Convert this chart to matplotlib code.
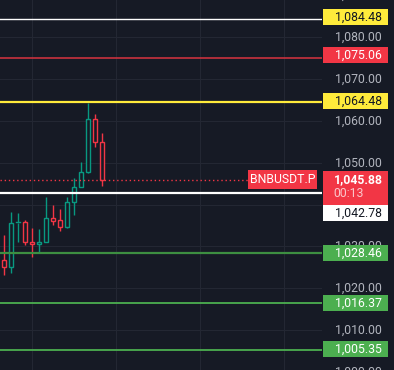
import matplotlib
matplotlib.use('Agg')
import matplotlib.pyplot as plt
import matplotlib.patches as mpatches
from matplotlib.transforms import blended_transform_factory

plt.rcParams['font.family'] = ['Roboto', 'DejaVu Sans']

# Candle data (15 bars)
opens = [1026.8, 1025.2, 1035.7, 1035.8, 1031.15, 1030.5, 1031.15, 1036.75,
         1036.3, 1034.6, 1040.6, 1044.15, 1047.9, 1060.4, 1054.9]
highs = [1032.8, 1038.2, 1037.9, 1036.3, 1034.5, 1034.2, 1041.9, 1039.9,
         1039.0, 1041.9, 1046.3, 1050.1, 1064.25, 1061.7, 1057.1]
lows = [1023.2, 1023.6, 1031.15, 1030.4, 1027.6, 1028.6, 1031.15, 1035.1,
        1033.8, 1034.35, 1037.5, 1044.15, 1047.5, 1053.7, 1044.55]
closes = [1025.2, 1035.55, 1035.9, 1031.15, 1030.5, 1031.15, 1036.75, 1036.2,
          1034.6, 1040.6, 1044.15, 1047.75, 1060.4, 1054.9, 1045.88]

# Horizontal levels
level_prices = [1084.48, 1075.06, 1064.48, 1042.78, 1028.46, 1016.37, 1005.35]
level_line_colors = ['#ffffff', '#c8323e', '#ffeb3b', '#ffffff', '#3d8f41', '#4caf50', '#4caf50']
level_line_widths = [1.0, 1.2, 1.6, 1.6, 1.6, 1.3, 1.3]
level_box_colors = ['#ffeb3b', '#f23645', '#ffeb3b', '#ffffff', '#4caf50', '#4caf50', '#4caf50']
level_text_colors = ['#131722', '#ffffff', '#131722', '#131722', '#ffffff', '#ffffff', '#ffffff']
# label centres (labels get nudged so they don't overlap)
level_box_centers = [1084.9, 1075.7, 1064.8, 1038.0, 1028.45, 1016.4, 1005.5]

tick_prices = [1000, 1010, 1020, 1030, 1040, 1050, 1060, 1070, 1080, 1090]

last_price = 1045.88
symbol = 'BNBUSDT.P'
countdown = '00:13'

BG = '#161a25'
GRID = '#232733'
UP = '#089981'
DOWN = '#f23645'
W, H = 394, 370
YLIM = (1000.45, 1088.97)

fig = plt.figure(figsize=(W / 100, H / 100), dpi=100, facecolor=BG)
ax = fig.add_axes([0, 0, 322 / W, 1])
ax.set_facecolor(BG)
ax.set_xlim(-0.614, 45.39)
ax.set_ylim(*YLIM)
for s in ax.spines.values():
    s.set_visible(False)
ax.set_xticks([])
ax.set_yticks([])

# grid
for p in range(1000, 1090, 10):
    ax.axhline(p, color=GRID, lw=0.8, zorder=0)
for xi in [4, 16, 28, 40]:
    ax.axvline(xi, color=GRID, lw=0.8, zorder=0)

# hollow candles
bw = 0.58
for i, (o, h, l, c) in enumerate(zip(opens, highs, lows, closes)):
    col = UP if c >= o else DOWN
    top, bot = max(o, c), min(o, c)
    ax.plot([i, i], [top, h], color=col, lw=1.0, zorder=3, solid_capstyle='butt')
    ax.plot([i, i], [l, bot], color=col, lw=1.0, zorder=3, solid_capstyle='butt')
    if top - bot < 0.4:
        ax.plot([i - bw / 2, i + bw / 2], [c, c], color=col, lw=1.0, zorder=3)
    else:
        ax.add_patch(mpatches.Rectangle((i - bw / 2, bot), bw, top - bot,
                                        facecolor=BG, edgecolor=col, lw=1.0, zorder=3))

# level lines
for p, c, lw in zip(level_prices, level_line_colors, level_line_widths):
    ax.axhline(p, color=c, lw=lw, zorder=4)

trans = blended_transform_factory(fig.transFigure, ax.transData)
px_h = (YLIM[1] - YLIM[0]) / H  # price units per pixel

# price scale tick labels
for p in tick_prices:
    ax.text(358 / W, p, f'{p:,.2f}', transform=trans, ha='center', va='center',
            fontsize=8.8, color='#b2b5be', clip_on=False, zorder=5)


def label_box(x0, x1, yc, hpx, fc, zorder=6):
    rect = mpatches.Rectangle((x0 / W, yc - hpx * px_h / 2), (x1 - x0) / W, hpx * px_h,
                              transform=trans, facecolor=fc, edgecolor='none',
                              clip_on=False, zorder=zorder)
    ax.add_artist(rect)


# level labels
for p, yc, fc, tc in zip(level_prices, level_box_centers, level_box_colors, level_text_colors):
    label_box(323, 388, yc, 16, fc)
    ax.text(358 / W, yc, f'{p:,.2f}', transform=trans, ha='center', va='center',
            fontsize=8.8, color=tc, clip_on=False, zorder=7)

# last price label with countdown
label_box(323, 388, 1044.05, 34, DOWN, zorder=8)
ax.text(358 / W, last_price + 0.1, f'{last_price:,.2f}', transform=trans, ha='center',
        va='center', fontsize=8.8, color='white', fontweight='bold', clip_on=False, zorder=9)
ax.text(333 / W, 1042.75, countdown, transform=trans, ha='left', va='center',
        fontsize=8.8, color='#fbc7cc', clip_on=False, zorder=9)

# symbol label and dotted last price line
ax.plot([-0.614, (248 - 4.3) / 7], [last_price, last_price], color=DOWN, lw=1.0,
        ls=(0, (1, 2)), zorder=4)
label_box(248, 317, last_price + 0.25, 19, DOWN, zorder=8)
ax.text(282.5 / W, last_price + 0.25, symbol, transform=trans, ha='center', va='center',
        fontsize=8.8, color='white', clip_on=False, zorder=9)

fig.savefig('out.png', dpi=100, facecolor=BG)
